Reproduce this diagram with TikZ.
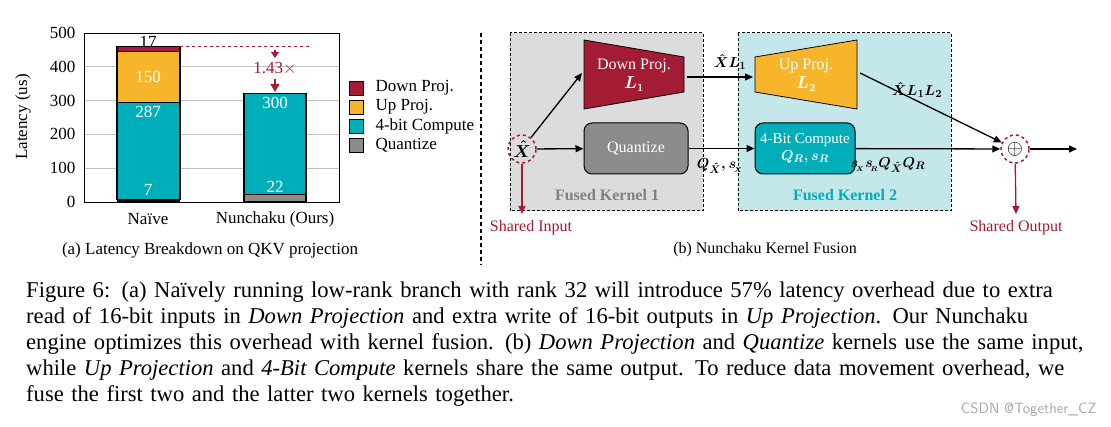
\documentclass[tikz,border=0pt]{standalone}
\usepackage{amsmath,amssymb}
\usepackage{fontspec}
\setmainfont{Liberation Serif}
\usetikzlibrary{arrows.meta}
\definecolor{cred}{HTML}{A31C33}
\definecolor{cyel}{HTML}{F7B52C}
\definecolor{cteal}{HTML}{00AEB9}
\definecolor{cgray}{HTML}{8C8C8C}
\definecolor{lgray}{HTML}{DCDCDC}
\definecolor{lteal}{HTML}{C4E7EA}
\begin{document}
\begin{tikzpicture}[x=1pt,y=-1pt,
  f/.style={font=\fontsize{16}{18}\selectfont},
  g/.style={font=\fontsize{17}{18}\selectfont},
  captxt/.style={font=\fontsize{22.6}{25.8}\selectfont,anchor=north west,inner sep=0pt,align=left,text width=1090pt},
  seg/.style={draw=black,line width=1.2pt},
  arr/.style={-{Triangle[length=8pt,width=7pt]},line width=1.3pt},
  rarr/.style={-{Triangle[length=8pt,width=7pt]},line width=1.3pt,cred},
  lab/.style={font=\fontsize{15}{16}\selectfont,inner sep=1pt}]
\useasboundingbox (0,0) rectangle (1111,427);
% ---------- chart ----------
\foreach \v/\y in {100/168.2,200/134.4,300/100.6,400/66.8}{\draw[gray!50,line width=0.8pt] (84,\y)--(339,\y);}
\draw[line width=0.8pt] (84,33) rectangle (339,202);
\foreach \v/\y in {0/202,100/168.2,200/134.4,300/100.6,400/66.8,500/33}{\node[g,anchor=east] at (79,\y) {\v};}
\node[g,rotate=90] at (23,117) {Latency (us)};
\fill[cteal,seg] (117,199.6) rectangle (180,102.6);
\fill[black] (117,202) rectangle (180,199.6);
\fill[cyel,seg] (117,102.6) rectangle (180,51.9);
\fill[cred,seg] (117,51.9) rectangle (180,46.2);
\fill[cgray,seg] (244,202) rectangle (306,194.6);
\fill[cteal,seg] (244,194.6) rectangle (306,93.2);
\node[g] at (148,42) {17};
\node[g,text=white] at (148,77) {150};
\node[g,text=white] at (148,112) {287};
\node[g,text=white] at (148,190) {7};
\node[g,text=white] at (275,103) {300};
\node[g,text=white] at (275,187) {22};
\draw[cred,dashed,line width=1.3pt] (180,46.2)--(309,46.2);
\draw[cred,-{Triangle[length=6pt,width=8pt]},line width=1.3pt] (275,50)--(275,58);
\draw[cred,-{Triangle[length=8pt,width=9pt]},line width=1.3pt] (275,79)--(275,92);
\node[g,cred] at (275,69) {1.43$\times$};
\node[g] at (148,219) {Naïve};
\node[g] at (275,219) {Nunchaku (Ours)};
\node[g] at (210,250) {(a) Latency Breakdown on QKV projection};
\foreach \c/\t/\y in {cred/Down Proj./88,cyel/Up Proj./107,cteal/4-bit Compute/126,cgray/Quantize/145}{
  \fill[\c,draw=black,line width=0.6pt] (349,\y-7) rectangle (363,\y+7);
  \node[g,anchor=west] at (372,\y) {\t};}
\draw[dashed,line width=1.5pt,dash pattern=on 4pt off 3pt] (481,33)--(481,265);
% ---------- fusion ----------
\draw[fill=lgray,dashed,line width=1pt,dash pattern=on 3pt off 2pt] (510,33) rectangle (703,211);
\draw[fill=lteal,dashed,line width=1pt,dash pattern=on 3pt off 2pt] (738,33) rectangle (951,211);
\node[font=\fontsize{16}{18}\selectfont\bfseries,text=gray] at (607,195) {Fused Kernel 1};
\node[font=\fontsize{16}{18}\selectfont\bfseries,text=cteal] at (845,195) {Fused Kernel 2};
\draw[fill=cred,line width=0.8pt] (584,40)--(684,57)--(684,92)--(584,109)--cycle;
\node[f,text=white,align=center] (dp) at (634,75) {Down Proj.\\[1pt]$\boldsymbol{L_1}$};
\draw[fill=cyel,line width=0.8pt] (755,57)--(857,40)--(857,109)--(755,92)--cycle;
\node[f,text=white,align=center] (up) at (806,75) {Up Proj.\\[1pt]$\boldsymbol{L_2}$};
\node[draw,fill=cgray,rounded corners=8pt,line width=1pt,minimum width=104pt,minimum height=51pt,f,text=white] (q) at (636,148.5) {Quantize};
\node[draw,fill=cteal,rounded corners=8pt,line width=1pt,minimum width=100pt,minimum height=51pt,font=\fontsize{15}{17}\selectfont,text=white,align=center] (c) at (805,148.5) {4-Bit Compute\\$\boldsymbol{Q_R, s_R}$};
\node[draw=cred,dashed,circle,line width=1.5pt,minimum size=28pt,inner sep=0pt,f] (x) at (522,149) {$\boldsymbol{\hat X}$};
\node[draw=cred,dashed,circle,line width=1.5pt,minimum size=28pt,inner sep=0pt,font=\fontsize{20}{20}\selectfont] (o) at (1015,149) {$\oplus$};
\coordinate (dpl) at (582,73);
\coordinate (dpr) at (687,77);
\coordinate (upl) at (753,77);
\coordinate (upr) at (860,73);
\coordinate (out) at (1077,149);
\coordinate (si) at (522,214);
\coordinate (so) at (1016,214);
\draw[arr] (x) -- (dpl);
\draw[arr] (x) -- (q);
\draw[arr] (dpr) -- (upl);
\draw[arr] (q) -- (c);
\draw[arr] (c) -- (o);
\draw[arr] (upr) -- (o);
\draw[arr] (o) -- (out);
\draw[rarr] (x) -- (si);
\draw[rarr] (o) -- (so);
\node[f,text=cred] at (531,228) {Shared Input};
\node[f,text=cred] at (1016,228) {Shared Output};
\node[lab] at (730,62) {$\boldsymbol{\hat X L_1}$};
\node[lab] at (917,90) {$\boldsymbol{\hat X L_1 L_2}$};
\node[lab] at (720,166) {$\boldsymbol{Q_{\hat X}, s_{\!_X}}$};
\node[lab] at (888,165) {$\boldsymbol{s_{\!_X} s_{\!_R} Q_{\hat X} Q_R}$};
\node[f] at (765,250) {(b) Nunchaku Kernel Fusion};
% ---------- caption ----------
\node[captxt] at (26,282) {Figure 6: (a) Naïvely running low-rank branch with rank 32 will introduce 57\% latency overhead due to extra\\
read of 16-bit inputs in \textit{Down Projection} and extra write of 16-bit outputs in \textit{Up Projection}. Our Nunchaku\\
engine optimizes this overhead with kernel fusion. (b) \textit{Down Projection} and \textit{Quantize} kernels use the same input,\\
while \textit{Up Projection} and \textit{4-Bit Compute} kernels share the same output. To reduce data movement overhead, we\\
fuse the first two and the latter two kernels together.};
\node[font=\fontsize{15}{16}\selectfont\sffamily,text=gray!70,anchor=east] at (1100,410) {CSDN @Together\_CZ};
\end{tikzpicture}
\end{document}
